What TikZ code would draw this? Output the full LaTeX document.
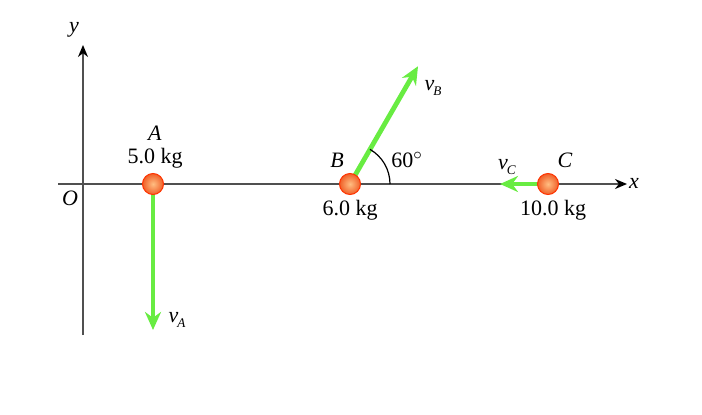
\documentclass[tikz,border=0pt]{standalone}
\usepackage{fontspec}
\setmainfont{Liberation Serif}
\usetikzlibrary{arrows.meta}

\definecolor{velgreen}{RGB}{104,236,66}
\definecolor{axisgray}{RGB}{80,80,80}
\definecolor{ballorange}{RGB}{240,95,40}
\definecolor{balllight}{RGB}{255,190,130}
\newcommand{\vel}[1]{\textit{v}\kern-0.5pt\raisebox{-2.5pt}{\scalebox{0.6}{\textit{#1}}}}

\tikzset{
  axis/.style={axisgray, line width=1.4pt, -{Stealth[length=6pt,width=5pt,black]}},
  vel/.style={velgreen, line width=2.4pt, -{Stealth[length=9pt,width=8pt]}},
  ball/.style={circle, minimum size=10.5pt, inner sep=0pt, inner color=balllight,
               outer color=ballorange, draw=red!60!orange, line width=0.5pt},
  lbl/.style={font=\fontsize{11}{13}\selectfont, inner sep=1pt}
}

\begin{document}
\begin{tikzpicture}[x=0.5pt, y=0.5pt]
\useasboundingbox (0,0) rectangle (702,414);

% axes
\coordinate (O) at (83,230);
\coordinate (xstart) at (58,230);
\coordinate (xend) at (627,230);
\coordinate (ystart) at (83,79);
\coordinate (yend) at (83,369);
\draw[axis] (xstart) -- (xend);
\draw[axis] (ystart) -- (yend);
\node[lbl] (ylab) at (74,384) {\textit{y}};
\node[lbl] (xlab) at (634,231) {\textit{x}};
\node[lbl] (Olab) at (70,216) {\textit{O}};

% velocity end points
\coordinate (Apos) at (153,230);
\coordinate (Bpos) at (350,230);
\coordinate (Cpos) at (548,230);
\coordinate (vAend) at (153,84);
\path (Bpos) ++(60:136) coordinate (vBend);
\coordinate (vCend) at (500,230);

% velocities (under the balls)
\draw[vel] (Apos) -- (vAend);
\draw[vel] (Bpos) -- (vBend);
\draw[vel] (Cpos) -- (vCend);

% angle at B
\draw[black, line width=0.6pt] (Bpos) ++(40,0) arc[start angle=0, end angle=60, radius=20pt];
\node[lbl] (ang) at (407,254) {60$^\circ$};

% particles
\node[ball] (A) at (Apos) {};
\node[ball] (B) at (Bpos) {};
\node[ball] (C) at (Cpos) {};

% labels
\node[lbl] (Alab) at (155,281) {\textit{A}};
\node[lbl] (Amass) at (155,256) {5.0 kg};
\node[lbl] (Blab) at (337,254) {\textit{B}};
\node[lbl] (Bmass) at (350,204) {6.0 kg};
\node[lbl] (Clab) at (565,254) {\textit{C}};
\node[lbl] (Cmass) at (553,204) {10.0 kg};
\node[lbl] (vAlab) at (177,94) {\vel{A}};
\node[lbl] (vBlab) at (433,326) {\vel{B}};
\node[lbl] (vClab) at (507,247) {\vel{C}};
\end{tikzpicture}
\end{document}
